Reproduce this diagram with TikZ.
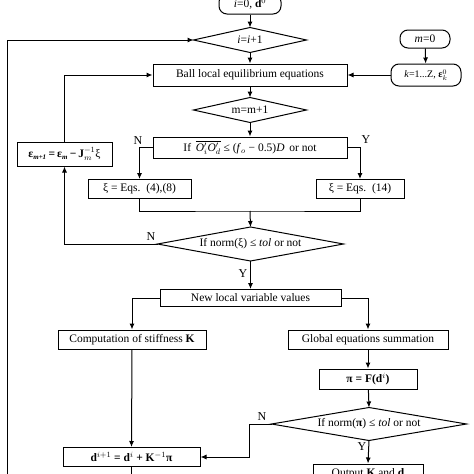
\documentclass[tikz,border=0pt]{standalone}
\usepackage{fontspec}
\setmainfont{Liberation Serif}
\usetikzlibrary{arrows.meta}
\tikzset{
  base/.style={draw,line width=1pt,inner sep=0pt,font=\fontsize{11.5}{13}\selectfont,align=center},
  boxn/.style={base,rectangle},
  roundn/.style={base,rectangle,rounded corners=8pt},
  dian/.style={base,rectangle,draw=none},
  conn/.style={line width=1pt},
  diaoutline/.style={line width=1pt,line join=miter},
  arr/.style={conn,-{Latex[length=6pt,width=5pt]}},
  lab/.style={font=\fontsize{12}{13}\selectfont,inner sep=0pt}
}
\begin{document}
\begin{tikzpicture}[x=1pt,y=-1pt]
\useasboundingbox (0,0) rectangle (474,474);
\clip (0,0) rectangle (474,474);
% nodes
\node[roundn,minimum width=62pt,minimum height=20pt] (top) at (250,4) {\textit{i}=0, \textbf{d}$^{0}$};
\node[dian,minimum width=112pt,minimum height=24pt] (d1) at (250,40) {\textit{i}=\textit{i}+1};
\node[boxn,minimum width=194pt,minimum height=22pt] (ball) at (250,75) {Ball local equilibrium equations};
\node[roundn,minimum width=50pt,minimum height=18pt] (m0) at (425,39) {\textit{m}=0};
\node[roundn,minimum width=70pt,minimum height=22pt,font=\fontsize{10}{12}\selectfont] (kn) at (426,75) {\textit{k}=1...Z, $\mbox{\textbf{ε}}^{0}_{k}$};
\node[dian,minimum width=112pt,minimum height=24pt] (d2) at (250,110) {m=m+1};
\node[boxn,minimum width=194pt,minimum height=21pt] (ifb) at (250,147.5) {If \,$\overline{\mbox{\itshape O$'_{i}$O$'_{d}$}}$ ≤ (\textit{f}$_{o}$ − 0.5)\textit{D}\, or not};
\node[boxn,minimum width=103pt,minimum height=19pt] (xiL) at (139.5,189) {ξ = Eqs. \,(4),(8)};
\node[boxn,minimum width=88pt,minimum height=19pt] (xiR) at (360,189) {ξ = Eqs. \,(14)};
\node[dian,minimum width=185pt,minimum height=33pt] (d3) at (250.5,244) {If norm(ξ) ≤ \textit{tol} or not};
\node[boxn,minimum width=95pt,minimum height=24pt,font=\fontsize{11.5}{13}\selectfont] (eps) at (64.5,154) {\textbf{ε}$_{\mbox{\scriptsize\bfseries\itshape m+1}}$\,\textbf{=\,ε}$_{\mbox{\scriptsize\bfseries\itshape m}}$\,\textbf{−\,J}$_{m}^{-1}$ξ};
\node[boxn,minimum width=181pt,minimum height=17pt] (newl) at (250.5,298) {New local variable values};
\node[boxn,minimum width=148pt,minimum height=19pt] (comp) at (132,339.5) {Computation of stiffness \textbf{K}};
\node[boxn,minimum width=160pt,minimum height=19pt] (glob) at (368,339.5) {Global equations summation};
\node[boxn,minimum width=98pt,minimum height=20pt] (pi) at (368,379) {\textbf{π = F(d}$^{i}$\textbf{)}};
\node[dian,minimum width=194pt,minimum height=32pt] (d4) at (369,424) {If norm(\textbf{π}) ≤ \textit{tol} or not};
\node[boxn,minimum width=137pt,minimum height=19pt] (db) at (131.5,457) {\textbf{d}$^{i+1}$ \textbf{= d}$^{i}$ \textbf{+ K}$^{-1}$\textbf{π}};
\node[boxn,minimum width=110pt,minimum height=19pt] (out) at (368,473.5) {Output \textbf{K} and \textbf{d}};
% diamond outlines
\foreach \d in {d1,d2,d3,d4}
  \draw[diaoutline] (\d.north) -- (\d.east) -- (\d.south) -- (\d.west) -- cycle;
% coordinates
\coordinate (lb) at (7,490);
\coordinate (mg) at (250,211);
\coordinate (nb) at (249,424);
% connectors
\draw[arr] (top) -- (d1.north);
\draw[arr] (db.south) -- (db.south |- lb) -- (lb) -- (lb |- d1.west) -- (d1.west);
\draw[arr] (d1.south) -- (ball);
\draw[arr] (m0) -- (kn);
\draw[arr] (kn) -- (ball);
\draw[arr] (ball) -- (d2.north);
\draw[arr] (d2.south) -- (ifb);
\draw[arr] (ifb.west) -| (xiL.north);
\draw[arr] (ifb.east) -| (xiR.north);
\draw[conn] (xiL.south) |- (mg) -| (xiR.south);
\draw[arr] (mg) -- (d3.north);
\draw[arr] (d3.west) -| (eps.south);
\draw[arr] (eps.north) |- (ball.west);
\draw[arr] (d3.south) -- (newl.north);
\draw[arr] (newl.west) -| (comp.north);
\draw[arr] (newl.east) -| (glob.north);
\draw[arr] (glob) -- (pi);
\draw[arr] (pi) -- (d4.north);
\draw[arr] (d4.west) -- (nb) |- (db.east);
\draw[arr] (comp.south) -- (db.north);
\draw[arr] (d4.south) -- (out.north);
% labels
\node[lab] (n1) at (138,141) {N};
\node[lab] (y1) at (366,140) {Y};
\node[lab] (n2) at (151,237) {N};
\node[lab] (y2) at (243,274) {Y};
\node[lab] (n3) at (262,417) {N};
\node[lab] (y3) at (362,447) {Y};
\end{tikzpicture}
\end{document}
